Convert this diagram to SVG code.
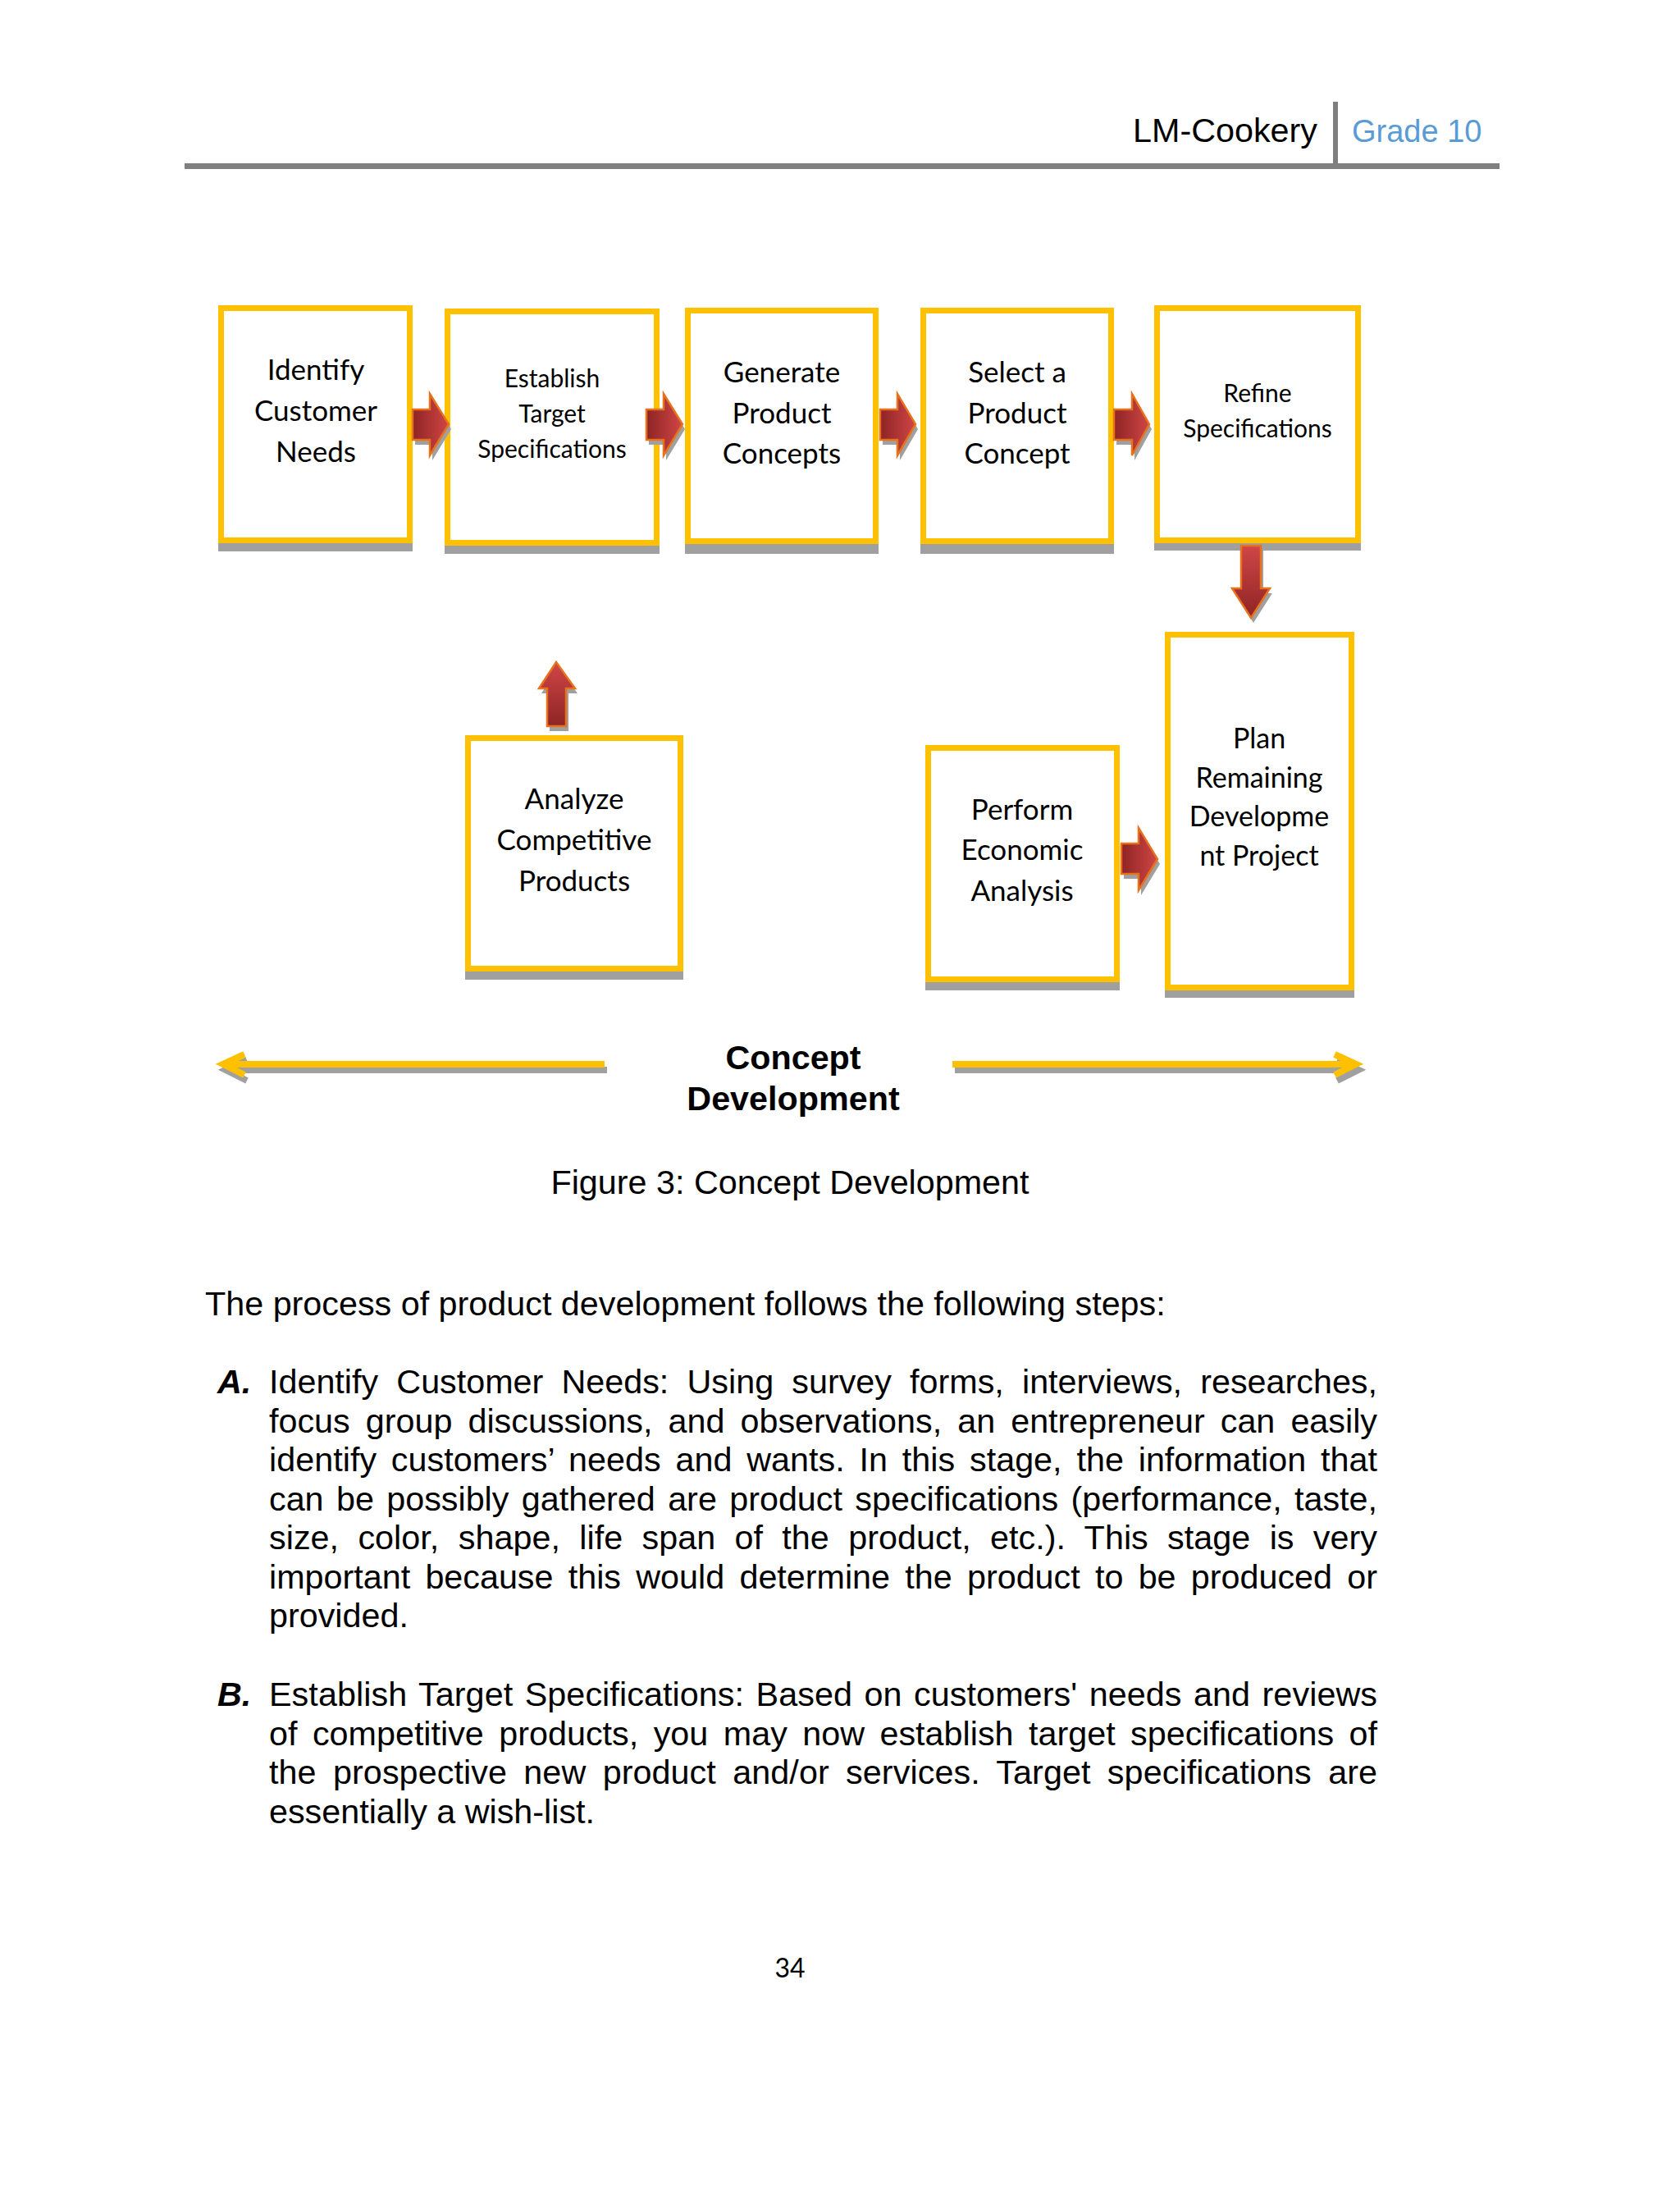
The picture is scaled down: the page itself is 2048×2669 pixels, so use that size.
<svg xmlns="http://www.w3.org/2000/svg" width="2048" height="2669" viewBox="0 0 2048 2669">
<defs>
<linearGradient id="gh" x1="0" y1="0" x2="1" y2="0"><stop offset="0" stop-color="#8e2424"/><stop offset="1" stop-color="#d04646"/></linearGradient>
<linearGradient id="gup" x1="0" y1="0" x2="0" y2="1"><stop offset="0" stop-color="#d04646"/><stop offset="1" stop-color="#8e2424"/></linearGradient>
<linearGradient id="gdn" x1="0" y1="0" x2="0" y2="1"><stop offset="0" stop-color="#d04646"/><stop offset="1" stop-color="#8e2424"/></linearGradient>
</defs>
<style>
.box{fill:#ffffff;stroke:#ffc000;stroke-width:7}
.sh{fill:#a0a0a0}
.lbl{font-family:Lato,"Open Sans","Noto Sans",sans-serif;font-size:35px;fill:#000;text-anchor:middle}
.sm{font-size:30px}
.pl{font-size:34px}
.ar{stroke:#e8711c;stroke-width:2.5;stroke-linejoin:miter}
.ars{fill:#a0a0a0}
.body{font-family:"Liberation Sans",Arial,sans-serif;font-size:41.3px;fill:#000}
.yl{fill:none;stroke:#ffc000;stroke-width:8}
.yls{fill:none;stroke:#a0a0a0;stroke-width:8}
</style>
<rect width="2048" height="2669" fill="#ffffff"/>
<g id="header">
<rect x="225" y="199" width="1603" height="7" fill="#7f7f7f"/>
<rect x="1625" y="124" width="6" height="78" fill="#7f7f7f"/>
<text x="1606" y="173" font-family="Liberation Sans, Arial, sans-serif" font-size="41.3" text-anchor="end" fill="#000">LM-Cookery</text>
<text x="1648" y="173" font-family="Liberation Sans, Arial, sans-serif" font-size="38" fill="#5b9bd5">Grade 10</text>
</g>
<g id="node-identify">
<rect class="sh" x="266" y="382" width="237" height="290"/>
<rect class="box" x="269.5" y="375.5" width="230" height="283"/>
<text class="lbl" x="385" y="463">Identify</text>
<text class="lbl" x="385" y="513">Customer</text>
<text class="lbl" x="385" y="563">Needs</text>
</g>
<g id="node-establish">
<rect class="sh" x="542" y="386" width="262" height="289"/>
<rect class="box" x="545.5" y="379.5" width="255" height="282"/>
<text class="lbl sm" x="673" y="472">Establish</text>
<text class="lbl sm" x="673" y="515">Target</text>
<text class="lbl sm" x="673" y="558">Specifications</text>
</g>
<g id="node-generate">
<rect class="sh" x="835" y="385" width="236" height="290"/>
<rect class="box" x="838.5" y="378.5" width="229" height="281"/>
<text class="lbl" x="953" y="466">Generate</text>
<text class="lbl" x="953" y="516">Product</text>
<text class="lbl" x="953" y="565">Concepts</text>
</g>
<g id="node-select">
<rect class="sh" x="1122" y="385" width="236" height="290"/>
<rect class="box" x="1125.5" y="378.5" width="229" height="281"/>
<text class="lbl" x="1240" y="466">Select a</text>
<text class="lbl" x="1240" y="516">Product</text>
<text class="lbl" x="1240" y="565">Concept</text>
</g>
<g id="node-refine">
<rect class="sh" x="1407" y="382" width="252" height="289"/>
<rect class="box" x="1410.5" y="375.5" width="245" height="283"/>
<text class="lbl sm" x="1533" y="490">Refine</text>
<text class="lbl sm" x="1533" y="533">Specifications</text>
</g>
<g id="node-analyze">
<rect class="sh" x="567" y="906" width="266" height="288"/>
<rect class="box" x="570.5" y="899.5" width="259" height="281"/>
<text class="lbl" x="700" y="986">Analyze</text>
<text class="lbl" x="700" y="1036">Competitive</text>
<text class="lbl" x="700" y="1086">Products</text>
</g>
<g id="node-perform">
<rect class="sh" x="1128" y="918" width="237" height="289"/>
<rect class="box" x="1131.5" y="911.5" width="230" height="282"/>
<text class="lbl" x="1246" y="999">Perform</text>
<text class="lbl" x="1246" y="1048">Economic</text>
<text class="lbl" x="1246" y="1098">Analysis</text>
</g>
<g id="node-plan">
<rect class="sh" x="1420" y="780" width="231" height="436"/>
<rect class="box" x="1423.5" y="773.5" width="224" height="430"/>
<text class="lbl pl" x="1535" y="912">Plan</text>
<text class="lbl pl" x="1535" y="960">Remaining</text>
<text class="lbl pl" x="1535" y="1007">Developme</text>
<text class="lbl pl" x="1535" y="1055">nt Project</text>
</g>
<g id="connectors">
<g transform="translate(3,6)" class="ars">
<path d="M503,499 L524,499 L524,480 L547,517 L524,555 L524,536 L503,536 Z"/>
<path d="M788,499 L809,499 L809,480 L832,517 L809,555 L809,536 L788,536 Z"/>
<path d="M1073,499 L1094,499 L1094,480 L1116,517 L1094,555 L1094,536 L1073,536 Z"/>
<path d="M1358,499 L1380,499 L1380,480 L1401,517 L1380,555 L1380,536 L1358,536 Z"/>
<path d="M1367,1028 L1388,1028 L1388,1009 L1411,1047 L1388,1085 L1388,1065 L1367,1065 Z"/>
<path d="M667,885 L667,839 L657,839 L678,807 L701,839 L690,839 L690,885 Z"/>
<path d="M1513,665 L1537,665 L1537,717 L1548,717 L1525,753 L1502,717 L1513,717 Z"/>
</g>
<path class="ar" fill="url(#gh)" d="M503,499 L524,499 L524,480 L547,517 L524,555 L524,536 L503,536 Z"/>
<path class="ar" fill="url(#gh)" d="M788,499 L809,499 L809,480 L832,517 L809,555 L809,536 L788,536 Z"/>
<path class="ar" fill="url(#gh)" d="M1073,499 L1094,499 L1094,480 L1116,517 L1094,555 L1094,536 L1073,536 Z"/>
<path class="ar" fill="url(#gh)" d="M1358,499 L1380,499 L1380,480 L1401,517 L1380,555 L1380,536 L1358,536 Z"/>
<path class="ar" fill="url(#gh)" d="M1367,1028 L1388,1028 L1388,1009 L1411,1047 L1388,1085 L1388,1065 L1367,1065 Z"/>
<path class="ar" fill="url(#gup)" d="M667,885 L667,839 L657,839 L678,807 L701,839 L690,839 L690,885 Z"/>
<path class="ar" fill="url(#gdn)" d="M1513,665 L1537,665 L1537,717 L1548,717 L1525,753 L1502,717 L1513,717 Z"/>
<g transform="translate(3,7)">
<path class="yls" d="M274,1297 L737,1297 M298,1285 L272,1297 L298,1310"/>
<path class="yls" d="M1161,1297 L1650,1297 M1627,1285 L1653,1297 L1627,1310"/>
</g>
<path class="yl" d="M274,1297 L737,1297 M298,1285 L272,1297 L298,1310"/>
<path class="yl" d="M1161,1297 L1650,1297 M1627,1285 L1653,1297 L1627,1310"/>
</g>
<g id="title">
<text x="967" y="1303" font-family="Liberation Sans, Arial, sans-serif" font-size="41.3" font-weight="bold" text-anchor="middle">Concept</text>
<text x="967" y="1353" font-family="Liberation Sans, Arial, sans-serif" font-size="41.3" font-weight="bold" text-anchor="middle">Development</text>
<text x="963" y="1455" class="body" text-anchor="middle">Figure 3: Concept Development</text>
</g>
<g id="text">
<text class="body" x="250" y="1603">The process of product development follows the following steps:</text>
<text class="body" x="265" y="1698" font-weight="bold" font-style="italic">A.</text>
<text class="body" x="328" y="1698" word-spacing="10.7" textLength="1351" lengthAdjust="spacing">Identify Customer Needs: Using survey forms, interviews, researches,</text>
<text class="body" x="328" y="1745.5" word-spacing="7.6" textLength="1351" lengthAdjust="spacing">focus group discussions, and observations, an entrepreneur can easily</text>
<text class="body" x="328" y="1793" word-spacing="6.3" textLength="1351" lengthAdjust="spacing">identify customers’ needs and wants. In this stage, the information that</text>
<text class="body" x="328" y="1840.5" word-spacing="3.9" textLength="1351" lengthAdjust="spacing">can be possibly gathered are product specifications (performance, taste,</text>
<text class="body" x="328" y="1888" word-spacing="11.8" textLength="1351" lengthAdjust="spacing">size, color, shape, life span of the product, etc.). This stage is very</text>
<text class="body" x="328" y="1935.5" word-spacing="6.8" textLength="1351" lengthAdjust="spacing">important because this would determine the product to be produced or</text>
<text class="body" x="328" y="1983">provided.</text>
<text class="body" x="265" y="2079" font-weight="bold" font-style="italic">B.</text>
<text class="body" x="328" y="2079" word-spacing="2.9" textLength="1351" lengthAdjust="spacing">Establish Target Specifications: Based on customers' needs and reviews</text>
<text class="body" x="328" y="2126.5" word-spacing="7.0" textLength="1351" lengthAdjust="spacing">of competitive products, you may now establish target specifications of</text>
<text class="body" x="328" y="2174" word-spacing="8.8" textLength="1351" lengthAdjust="spacing">the prospective new product and/or services. Target specifications are</text>
<text class="body" x="328" y="2221.5">essentially a wish-list.</text>
<text x="963" y="2410" font-family="Lato, 'Open Sans', sans-serif" font-size="32" text-anchor="middle">34</text>
</g>
</svg>
